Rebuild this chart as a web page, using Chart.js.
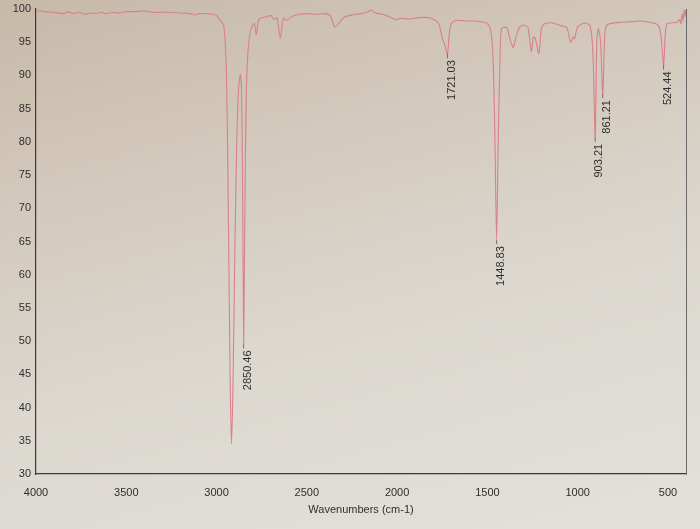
<!DOCTYPE html>
<html>
<head>
<meta charset="utf-8">
<script src="https://cdn.jsdelivr.net/npm/chart.js@4"></script>
<style>
  html, body { margin: 0; padding: 0; }
  body {
    width: 700px; height: 529px; overflow: hidden;
    background: linear-gradient(165deg, #c7b9a8 0%, #d3c9bc 30%, #dcd8d0 60%, #e3e1db 100%);
  }
  #wrap { position: relative; width: 700px; height: 529px; }
</style>
</head>
<body>
<div id="wrap"><canvas id="irChart" width="700" height="529"></canvas></div>
<script>
// Spectrum
const wavenumbers = [
  4000, 3950, 3900, 3850, 3820, 3790, 3760, 3730, 3700, 3670, 3640, 3610, 3580, 3540,
  3500, 3450, 3400, 3350, 3300, 3250, 3200, 3150, 3120, 3100, 3060, 3020, 3000,
  2980, 2960, 2945, 2935, 2925, 2917, 2908, 2898, 2888, 2878, 2868, 2862, 2856,
  2850, 2843, 2835, 2825, 2812, 2800, 2790, 2780, 2768, 2756, 2730, 2700, 2680,
  2665, 2647, 2630, 2610, 2580, 2540, 2500, 2450, 2400, 2370, 2345, 2320, 2290,
  2250, 2200, 2160, 2142, 2120, 2080, 2040, 2005, 1980, 1930, 1880, 1824, 1790,
  1769, 1750, 1740, 1732, 1721, 1712, 1704, 1690, 1660, 1620, 1580, 1540, 1500,
  1480, 1468, 1458, 1449, 1440, 1430, 1421, 1393, 1375, 1356, 1340, 1320, 1297,
  1275, 1257, 1245, 1235, 1215, 1200, 1180, 1140, 1095, 1060, 1040, 1025, 1018,
  1000, 960, 930, 915, 903, 894, 885, 873, 861, 850, 838, 800, 760, 700, 652,
  600, 560, 545, 535, 524, 515, 505, 480, 450, 435, 428, 422, 416, 410, 405, 400
];
const transmittance = [
  99.8, 99.6, 99.5, 99.3, 99.6, 99.3, 99.5, 99.2, 99.4, 99.3, 99.5, 99.3, 99.5, 99.4,
  99.6, 99.6, 99.7, 99.5, 99.5, 99.5, 99.4, 99.3, 99.1, 99.3, 99.3, 99.2, 99.0,
  98.3, 97.5, 90, 70, 45, 34.5, 45, 65, 80, 88, 90.2, 88, 75,
  49.5, 70, 88, 94, 96.8, 97.5, 97.8, 96.2, 98.3, 98.6, 98.8, 99.0, 98.4,
  98.7, 95.6, 98.6, 98.3, 98.9, 99.2, 99.3, 99.2, 99.3, 99.0, 97.3, 98.0, 98.8,
  99.1, 99.3, 99.6, 99.8, 99.4, 99.2, 98.8, 98.4, 98.6, 98.5, 98.7, 98.7, 98.3,
  97.8, 95.6, 95.0, 94.2, 93.2, 96.0, 97.5, 98.1, 98.3, 98.2, 98.2, 98.1, 97.8,
  96.5, 92, 80, 65.2, 80, 93, 97.1, 97.2, 95.5, 94.2, 96.0, 97.3, 97.6,
  97.2, 93.6, 95.8, 95.6, 93.3, 97.2, 97.8, 97.9, 97.5, 97.2, 95.0, 95.8, 95.5,
  97.3, 97.9, 97.4, 93, 80.6, 95, 97.1, 95, 87.2, 96, 97.6, 97.9, 98.0, 98.1, 98.2,
  98.0, 97.7, 97.0, 95, 91.5, 96, 97.8, 97.9, 98.0, 98.4, 97.8, 99.2, 98.3, 99.8, 98.9, 100
];

// Peak annotations
const peakLabels = ["2850.46", "1721.03", "1448.83", "903.21", "861.21", "524.44"];
const peakWavenumbers = [2850.46, 1721.03, 1448.83, 903.21, 861.21, 524.44];
const peakDepths = [49.5, 93.2, 65.2, 80.6, 87.2, 91.5];

const xTickValues = [4000, 3500, 3000, 2500, 2000, 1500, 1000, 500];
const yTickValues = [30, 35, 40, 45, 50, 55, 60, 65, 70, 75, 80, 85, 90, 95, 100];

const textColor = "#2f2f2f";
const axisColor = "#3a3a3a";
const lineColor = "#d9808a";
const fontFamily = "'Liberation Sans', Arial, sans-serif";

// Draw the peak labels rotated, just under each peak
const peakLabelPlugin = {
  id: "peakLabels",
  afterDatasetsDraw(chart) {
    const ctx = chart.ctx;
    const xs = chart.scales.x;
    const ys = chart.scales.y;
    ctx.save();
    ctx.font = "11px " + fontFamily;
    ctx.fillStyle = textColor;
    ctx.textAlign = "right";
    ctx.textBaseline = "middle";
    peakLabels.forEach((label, i) => {
      const px = xs.getPixelForValue(peakWavenumbers[i]);
      const py = ys.getPixelForValue(peakDepths[i]);
      ctx.strokeStyle = "#555";
      ctx.lineWidth = 0.8;
      ctx.beginPath();
      ctx.moveTo(px, py);
      ctx.lineTo(px, py + 4);
      ctx.stroke();
      ctx.save();
      ctx.translate(px + 4, py + 6);
      ctx.rotate(-Math.PI / 2);
      ctx.fillText(label, 0, 0);
      ctx.restore();
    });
    ctx.restore();
  }
};

const points = wavenumbers.map((w, i) => ({ x: w, y: transmittance[i] }));

new Chart(document.getElementById("irChart"), {
  type: "line",
  data: {
    datasets: [{
      data: points,
      borderColor: lineColor,
      borderWidth: 1.1,
      pointRadius: 0,
      tension: 0.25,
      fill: false
    }]
  },
  options: {
    responsive: false,
    animation: false,
    layout: { padding: { top: 9, right: 0, left: 0, bottom: 0 } },
    plugins: {
      legend: { display: false },
      tooltip: { enabled: false }
    },
    scales: {
      x: {
        type: "linear",
        reverse: true,
        min: 400,
        max: 4000,
        afterBuildTicks: scale => { scale.ticks = xTickValues.map(v => ({ value: v })); },
        afterFit: scale => { scale.height = 55; },
        grid: { display: false, drawTicks: true, tickLength: 4, tickColor: axisColor },
        border: { display: true, color: axisColor, width: 1.2 },
        ticks: {
          color: textColor,
          padding: 8,
          maxRotation: 0,
          callback: v => String(v),
          font: { family: fontFamily, size: 11 }
        },
        title: {
          display: true,
          text: "Wavenumbers (cm-1)",
          color: textColor,
          padding: { top: 0, bottom: 12 },
          font: { family: fontFamily, size: 11 }
        }
      },
      y: {
        min: 30,
        max: 100,
        afterBuildTicks: scale => { scale.ticks = yTickValues.map(v => ({ value: v })); },
        afterFit: scale => { scale.width = 36; },
        grid: { display: false, drawTicks: true, tickLength: 3, tickColor: axisColor },
        border: { display: true, color: axisColor, width: 1.2 },
        ticks: {
          color: textColor,
          padding: 2,
          callback: v => String(v),
          font: { family: fontFamily, size: 11 }
        }
      },
      yr: {
        position: "right",
        min: 30,
        max: 100,
        afterFit: scale => { scale.width = 14; },
        grid: { display: false, drawTicks: false },
        border: { display: true, color: "#6a6a6a", width: 1 },
        ticks: { display: false }
      }
    }
  },
  plugins: [peakLabelPlugin]
});
</script>
</body>
</html>
